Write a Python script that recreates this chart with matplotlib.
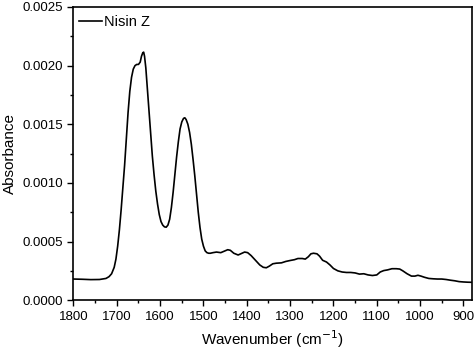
import matplotlib.pyplot as plt
from matplotlib.ticker import MultipleLocator

plt.rcParams['font.family'] = ['Liberation Sans', 'DejaVu Sans']

# FTIR spectrum (cm-1, absorbance)
wavenumber = [1800, 1780, 1760, 1740, 1725, 1718, 1712, 1706, 1702, 1698,
              1694, 1690, 1686, 1682, 1678, 1674, 1670, 1666, 1662, 1658,
              1654, 1650, 1646, 1643, 1640, 1638, 1636, 1633, 1630, 1626,
              1622, 1618, 1614, 1610, 1606, 1602, 1598, 1594, 1590, 1586,
              1582, 1578, 1574, 1570, 1566, 1562, 1558, 1554, 1550, 1546,
              1543, 1540, 1536, 1532, 1528, 1524, 1520, 1516, 1512, 1508,
              1504, 1500, 1496, 1492, 1488, 1484, 1478, 1470, 1460, 1450,
              1444, 1438, 1430, 1420, 1414, 1405, 1398, 1390, 1380, 1370,
              1362, 1355, 1348, 1340, 1332, 1320, 1310, 1300, 1290, 1282,
              1272, 1265, 1258, 1252, 1246, 1238, 1232, 1225, 1216, 1208,
              1200, 1190, 1180, 1170, 1160, 1150, 1140, 1130, 1120, 1110,
              1100, 1092, 1084, 1075, 1065, 1055, 1047, 1040, 1030, 1020,
              1012, 1005, 998, 990, 980, 970, 960, 950, 940, 930,
              920, 910, 900, 890, 880]
absorbance = [0.000180, 0.000178, 0.000175, 0.000176, 0.000185, 0.000200, 0.000225, 0.000280, 0.000350, 0.000460,
              0.000600, 0.000770, 0.000960, 0.001150, 0.001380, 0.001600, 0.001780, 0.001900, 0.001970, 0.002000,
              0.002010, 0.002010, 0.002030, 0.002080, 0.002110, 0.002115, 0.002080, 0.001980, 0.001830, 0.001620,
              0.001420, 0.001230, 0.001070, 0.000930, 0.000820, 0.000730, 0.000670, 0.000640, 0.000625, 0.000622,
              0.000640, 0.000690, 0.000790, 0.000920, 0.001070, 0.001220, 0.001350, 0.001460, 0.001520, 0.001550,
              0.001555, 0.001540, 0.001500, 0.001430, 0.001330, 0.001200, 0.001060, 0.000900, 0.000750, 0.000620,
              0.000520, 0.000460, 0.000420, 0.000405, 0.000400, 0.000400, 0.000405, 0.000410, 0.000405, 0.000420,
              0.000430, 0.000425, 0.000400, 0.000385, 0.000395, 0.000410, 0.000405, 0.000380, 0.000340, 0.000300,
              0.000280, 0.000276, 0.000290, 0.000310, 0.000315, 0.000318, 0.000330, 0.000338, 0.000345, 0.000355,
              0.000355, 0.000350, 0.000370, 0.000395, 0.000400, 0.000395, 0.000375, 0.000340, 0.000325, 0.000300,
              0.000270, 0.000250, 0.000240, 0.000236, 0.000236, 0.000232, 0.000222, 0.000225, 0.000215, 0.000210,
              0.000215, 0.000240, 0.000252, 0.000258, 0.000268, 0.000268, 0.000265, 0.000250, 0.000225, 0.000205,
              0.000205, 0.000212, 0.000205, 0.000195, 0.000185, 0.000182, 0.000180, 0.000180, 0.000176, 0.000170,
              0.000165, 0.000158, 0.000155, 0.000153, 0.000152]

fig = plt.figure(figsize=(4.74, 3.49), dpi=100)
ax = fig.add_axes([0.155, 0.140, 0.841, 0.840])

ax.plot(wavenumber, absorbance, color='black', lw=1.2, label='Nisin Z')

ax.set_xlim(1800, 880)
ax.set_ylim(0, 0.0025)
ax.xaxis.set_major_locator(MultipleLocator(100))
ax.xaxis.set_minor_locator(MultipleLocator(50))
ax.yaxis.set_major_locator(MultipleLocator(0.0005))
ax.yaxis.set_minor_locator(MultipleLocator(0.00025))
ax.yaxis.set_major_formatter(plt.FormatStrFormatter('%.4f'))
ax.tick_params(which='both', direction='out', labelsize=9.5, width=1, top=False, right=False)
ax.tick_params(which='major', length=4)
ax.tick_params(which='minor', length=2.5)
for s in ax.spines.values():
    s.set_linewidth(1.2)

ax.set_xlabel('Wavenumber (cm$^{-1}$)', fontsize=11)
ax.set_ylabel('Absorbance', fontsize=11)

ax.legend(loc='upper left', bbox_to_anchor=(0.014, 0.972), frameon=False,
          fontsize=10.5, handlelength=1.55, handletextpad=0.15,
          borderaxespad=0, borderpad=0)

fig.savefig('out.png', dpi=100)
